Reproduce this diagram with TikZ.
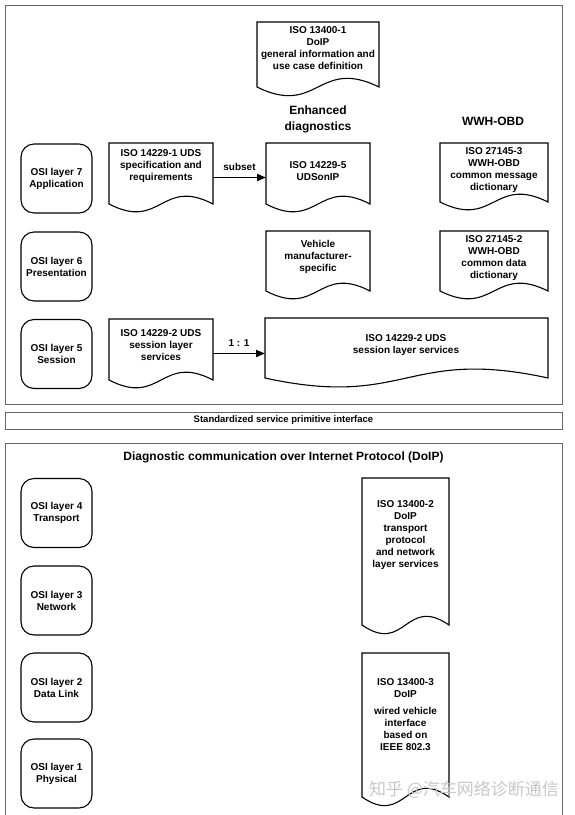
\documentclass[tikz,border=0pt]{standalone}
\usepackage{fontspec}
\setmainfont{Liberation Sans}
\newfontfamily\cjkfont{Noto Sans CJK SC}
\usetikzlibrary{calc,arrows.meta,fit}

\tikzset{
  frameline/.style={draw=black!60, line width=0.9pt},
  osibox/.style={draw, line width=1.1pt, rounded corners=13pt, minimum width=71pt,
    minimum height=69pt, inner sep=0pt, align=center,
    font=\fontsize{10}{12}\selectfont\bfseries},
  docbase/.style={inner sep=0pt, outer sep=0pt},
  docline/.style={line width=1.1pt, line join=miter},
  boxtext/.style={font=\fontsize{10}{12}\selectfont\bfseries, align=center, inner sep=0pt},
  heading/.style={font=\fontsize{12}{16}\selectfont\bfseries, align=center, inner sep=0pt},
  arr/.style={line width=1.8pt, -{Triangle[length=9pt,width=7pt]}},
  lbl/.style={font=\fontsize{10}{12}\selectfont\bfseries, inner sep=0pt},
}

\newcommand{\docbox}[6]{%
  \node[docbase, fit={(#2,#3) (#4,#5)}] (#1) {};
  \draw[docline] (#1.south west) -- (#1.north west) -- (#1.north east) -- (#1.south east)
    .. controls ($(#1.south)+(0,-#6)$) and ($(#1.south)+(0,#6)$) .. (#1.south west) -- cycle;
}

\begin{document}
\begin{tikzpicture}[x={(1pt,0)}, y={(0,-1pt)}]
\useasboundingbox (0,0) rectangle (574,815);

% frames
\draw[frameline] (5,5) rectangle (562,404);
\draw[frameline] (5,412) rectangle (562,429);
\draw[frameline] (5,818) -- (5,443) -- (562,443) -- (562,818);

% OSI layers
\node[osibox] (osi7) at (56.5,178.5) {OSI layer 7\\Application};
\node[osibox] (osi6) at (56.5,266.5) {OSI layer 6\\Presentation};
\node[osibox] (osi5) at (56.5,354) {OSI layer 5\\Session};
\node[osibox] (osi4) at (56.5,513) {OSI layer 4\\Transport};
\node[osibox] (osi3) at (56.5,600.5) {OSI layer 3\\Network};
\node[osibox] (osi2) at (56.5,687.5) {OSI layer 2\\Data Link};
\node[osibox] (osi1) at (56.5,773.5) {OSI layer 1\\Physical};

% document boxes
\docbox{d1}{257}{22}{379}{87}{30}
\docbox{d2}{109}{143}{213}{204}{27}
\docbox{d3}{266}{143}{370}{204}{27}
\docbox{d4}{440}{143}{548}{202}{27}
\docbox{d5}{266}{231}{370}{291}{27}
\docbox{d6}{440}{231}{548}{291}{27}
\docbox{d7}{109}{319}{213}{380}{27}
\docbox{d8}{265}{318}{548}{378}{31}
\docbox{d9}{362}{478}{449}{625}{30}
\docbox{d10}{362}{653}{449}{797}{30}

% texts
\node[boxtext] (t1) at (318,48) {ISO 13400-1\\DoIP\\general information and\\use case definition};
\node[heading] (h1) at (318,119) {Enhanced\\diagnostics};
\node[heading] (h2) at (493,121) {WWH-OBD};
\node[boxtext] (t2) at (161,166) {ISO 14229-1 UDS\\specification and\\requirements};
\node[boxtext] (t3) at (318,171) {ISO 14229-5\\UDSonIP};
\node[boxtext] (t4) at (494,170) {ISO 27145-3\\WWH-OBD\\common message\\dictionary};
\node[boxtext] (t5) at (318,257) {Vehicle\\manufacturer-\\specific};
\node[boxtext] (t6) at (494,258) {ISO 27145-2\\WWH-OBD\\common data\\dictionary};
\node[boxtext] (t7) at (161,345) {ISO 14229-2 UDS\\session layer\\services};
\node[boxtext] (t8) at (406,345) {ISO 14229-2 UDS\\session layer services};
\node[font=\fontsize{9.5}{11}\selectfont\bfseries, inner sep=0pt] (bt) at (283.5,420.5) {Standardized service primitive interface};
\node[heading] (h3) at (283.5,457) {Diagnostic communication over Internet Protocol (DoIP)};
\node[boxtext] (t9) at (405.5,535) {ISO 13400-2\\DoIP\\transport\\protocol\\and network\\layer services};
\node[boxtext] (t10) at (405.5,714.5) {ISO 13400-3\\DoIP\\[5pt]wired vehicle\\interface\\based on\\IEEE 802.3};

% arrows
\draw[arr] ([yshift=-4pt]d2.east) -- ([yshift=-4pt]d2.east -| d3.west)
  node[lbl, midway, above=6pt] (l1) {subset};
\draw[arr] ([yshift=-4pt]d7.east) -- ([yshift=-4pt]d7.east -| d8.west)
  node[lbl, midway, above=6pt] (l2) {1 : 1};

% watermark
\node[font=\cjkfont\fontsize{17}{17}\selectfont, text=black!22, inner sep=0pt] (wm) at (464,790) {知乎 @汽车网络诊断通信};
\end{tikzpicture}
\end{document}
